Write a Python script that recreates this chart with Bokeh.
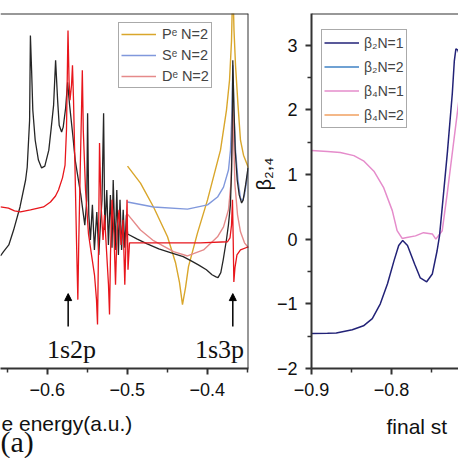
from bokeh.plotting import figure
from bokeh.layouts import row
from bokeh.models import (Range1d, FixedTicker, Span, Label, Legend, LegendItem,
                          Arrow, NormalHead, Title)
from bokeh.embed import file_html
from bokeh.resources import INLINE

NAN = float("nan")

# ---------------- data: panel (a) ----------------
black_curve = [(-0.6584, 3.17), (-0.6546, 3.29), (-0.648, 3.48), (-0.642, 3.90), (-0.634, 4.55),
               (-0.627, 5.31), (-0.625, 5.67),
               (-0.622, 6.99), (-0.621, 9.38), (-0.6195, 8.40), (-0.618, 7.28), (-0.615, 6.43),
               (-0.611, 5.87), (-0.607, 5.65), (-0.603, 5.70), (-0.598, 6.15), (-0.595, 6.77),
               (-0.592, 7.42), (-0.5895, 8.68), (-0.587, 7.56), (-0.585, 6.85), (-0.582, 6.66),
               (-0.580, 6.80), (-0.577, 7.33), (-0.5745, 8.06), (-0.572, 7.42), (-0.568, 6.57),
               (-0.565, 5.87), (-0.558, 4.89), (-0.553, 4.04), (-0.5505, 4.75), (-0.5495, 7.19),
               (-0.548, 4.33), (-0.546, 3.62), (-0.5435, 4.61), (-0.541, 3.34), (-0.538, 4.41),
               (-0.5355, 3.20), (-0.5335, 4.04), (-0.5315, 4.75), (-0.5295, 7.19), (-0.528, 3.90),
               (-0.5255, 5.03), (-0.5235, 3.48), (-0.521, 4.89), (-0.519, 3.40), (-0.5175, 5.31),
               (-0.515, 3.34), (-0.513, 5.03), (-0.511, 3.20), (-0.509, 4.75), (-0.507, 3.34),
               (-0.505, 4.47), (-0.503, 3.40), (-0.501, 4.33), (-0.4995, 3.79), (-0.488, 3.65),
               (-0.475, 3.51), (-0.4605, 3.37), (-0.445, 3.26), (-0.430, 3.15), (-0.420, 3.03),
               (-0.411, 2.92), (-0.401, 2.78), (-0.394, 2.64), (-0.389, 2.58), (-0.3865, 2.56),
               (-0.383, 2.70), (-0.380, 3.06), (-0.376, 3.62), (-0.3735, 4.04), (-0.371, 4.61),
               (-0.3695, 5.59), (-0.3685, 7.28), (-0.368, 8.68), (-0.3665, 7.28), (-0.365, 6.15),
               (-0.3625, 5.31), (-0.360, 4.89), (-0.357, 4.66), (-0.355, 4.75), (-0.352, 5.17),
               (-0.349, 5.65)]

red_curve = [(-0.6584, 4.55), (-0.6484, 4.52), (-0.6409, 4.44), (-0.6334, 4.41), (-0.6209, 4.47),
             (-0.6046, 4.55),
             (-0.5959, 4.69), (-0.5896, 4.86), (-0.5859, 5.03), (-0.5809, 5.37), (-0.5777, 5.73),
             (-0.5759, 6.71), (-0.5746, 8.68), (-0.5740, 9.52), (-0.5727, 8.12), (-0.5715, 7.56),
             (-0.5696, 7.98), (-0.5684, 8.54), (-0.5671, 7.56), (-0.5652, 5.59), (-0.5634, 3.62),
             (-0.5617, 1.94), (-0.5605, 3.62), (-0.5590, 5.31), (-0.5571, 7.28), (-0.5561, 8.40),
             (-0.5549, 6.71), (-0.5521, 5.03), (-0.5484, 3.79), (-0.5446, 3.20), (-0.5409, 2.64),
             (-0.5384, 1.94), (-0.5371, 1.24), (-0.5359, 3.34), (-0.5346, 6.35), (-0.5327, 4.61),
             (-0.5302, 3.62), (-0.5284, 4.33), (-0.5259, 3.34), (-0.5234, 2.36), (-0.5221, 1.52),
             (-0.5209, 3.20), (-0.5190, 4.75), (-0.5165, 3.76), (-0.5146, 2.36), (-0.5127, 3.90),
             (-0.5102, 4.47), (-0.5077, 3.48), (-0.5052, 4.19), (-0.5030, 2.36), (-0.5015, 3.62),
             (-0.5002, 4.75), (-0.4990, 2.78), (-0.4971, 3.54), (-0.4584, 3.54), (-0.4084, 3.54),
             (-0.3746, 3.57), (-0.3715, 3.68), (-0.3696, 4.04), (-0.3684, 4.75), (-0.3675, 3.62),
             (-0.3667, 2.44), (-0.3653, 2.84), (-0.3628, 3.20), (-0.3584, 3.34), (-0.3484, 3.43)]

pe_n2 = [(-0.4996, 5.70), (-0.4834, 5.22), (-0.4671, 4.55), (-0.4496, 3.71), (-0.4396, 2.98),
         (-0.4346, 2.42), (-0.4309, 1.80), (-0.4271, 2.28), (-0.4234, 2.87), (-0.4121, 3.82),
         (-0.3996, 4.75), (-0.3834, 6.15), (-0.3759, 7.28), (-0.3721, 8.12), (-0.3696, 9.24),
         (-0.3680, 10.9), (-0.3665, 9.52), (-0.3646, 8.54), (-0.3615, 7.42), (-0.3584, 6.43),
         (-0.3546, 6.01), (-0.3484, 5.65)]

se_n2 = [(-0.4996, 4.69), (-0.4671, 4.55), (-0.4246, 4.49), (-0.3996, 4.61), (-0.3871, 4.83),
         (-0.3796, 5.11), (-0.3734, 5.59), (-0.3709, 6.15), (-0.3690, 7.28), (-0.3680, 8.54),
         (-0.3667, 7.28), (-0.3646, 6.15), (-0.3615, 5.31), (-0.3584, 4.80), (-0.3559, 4.72),
         (-0.3534, 4.89), (-0.3509, 5.25), (-0.3484, 5.65)]

de_n2 = [(-0.4996, 4.35), (-0.4834, 3.90), (-0.4671, 3.60), (-0.4421, 3.29), (-0.4246, 3.17),
         (-0.4046, 3.34), (-0.3871, 3.71), (-0.3796, 3.99), (-0.3734, 4.47), (-0.3703, 5.22),
         (-0.3688, 6.43), (-0.3679, 7.84), (-0.3669, 6.43), (-0.3653, 5.17), (-0.3621, 4.33),
         (-0.3584, 3.85), (-0.3534, 3.54), (-0.3484, 3.40)]

left_legend_labels = ["P\u1d49 N=2", "S\u1d49 N=2", "D\u1d49 N=2"]
left_xticks = [-0.6, -0.5, -0.4]
left_xminor = [-0.65, -0.55, -0.45, -0.35]
thresholds = [(-0.5738, "1s2p"), (-0.368, "1s3p")]
threshold_label_x = [-0.5696, -0.3846]

# ---------------- data: panel (b) ----------------
beta2_n1 = [(-0.900, -1.46), (-0.880, -1.455), (-0.869, -1.45), (-0.849, -1.40), (-0.835, -1.34),
            (-0.824, -1.23), (-0.814, -1.00), (-0.805, -0.69), (-0.797, -0.34), (-0.791, -0.10),
            (-0.786, -0.02), (-0.780, -0.10), (-0.771, -0.39), (-0.764, -0.60), (-0.756, -0.66),
            (-0.749, -0.54), (-0.743, -0.18), (-0.740, 0.05), (-0.735, 0.70), (-0.730, 1.36),
            (-0.724, 2.25), (-0.7215, 2.75), (-0.7195, 2.94), (-0.717, 2.92), (-0.714, 2.80),
            (-0.709, 2.30), (-0.705, 1.87), (-0.699, 1.16)]
beta2_n2 = [(NAN, NAN)]
beta4_n1 = [(-0.900, 1.37), (-0.880, 1.355), (-0.864, 1.34), (-0.847, 1.29), (-0.835, 1.21),
            (-0.822, 1.05), (-0.810, 0.80), (-0.799, 0.44), (-0.793, 0.13), (-0.7867, 0.01),
            (-0.7825, 0.02), (-0.770, 0.05), (-0.760, 0.10), (-0.749, 0.08), (-0.7446, 0.0),
            (-0.7366, 0.13), (-0.7304, 0.70), (-0.7221, 1.52), (-0.7158, 2.14), (-0.7096, 2.47),
            (-0.7013, 2.55)]
beta4_n2 = [(NAN, NAN)]
right_legend_labels = ["\u03b2\u2082N=1", "\u03b2\u2082N=2", "\u03b2\u2084N=1", "\u03b2\u2084N=2"]
right_xticks = [-0.9, -0.8, -0.7]
right_xminor = [-0.85, -0.75]
right_yticks = [-2, -1, 0, 1, 2, 3]
right_yminor = [-1.5, -0.5, 0.5, 1.5, 2.5]

AX = "#333333"
TXT = "#111111"
SANS = "Liberation Sans"
SERIF = "Liberation Serif"


def xs(c):
    return [p[0] for p in c]


def ys(c):
    return [p[1] for p in c]


def style_axis(ax):
    ax.axis_line_width = 2
    ax.axis_line_color = AX
    ax.major_tick_line_width = 2
    ax.major_tick_line_color = AX
    ax.minor_tick_line_width = 1.5
    ax.minor_tick_line_color = AX
    ax.major_tick_in = 0
    ax.major_tick_out = 6
    ax.minor_tick_in = 0
    ax.minor_tick_out = 4
    ax.major_label_text_font = SANS
    ax.major_label_text_font_size = "18px"
    ax.major_label_text_color = TXT
    ax.major_label_standoff = 8


def title(text, font, size, align, offset, standoff, valign="bottom"):
    return Title(text=text, align=align, offset=offset, standoff=standoff,
                 vertical_align=valign,
                 text_font=font, text_font_size=size, text_font_style="normal",
                 text_color=TXT)


# ---------------- left panel ----------------
p1 = figure(width=249, height=458, x_range=Range1d(-0.65838, -0.34838), y_range=Range1d(0, 10),
            output_backend="svg", toolbar_location=None, y_axis_location=None,
            min_border_left=0, min_border_right=1, min_border_top=13, min_border_bottom=89)
p1.xgrid.visible = False
p1.ygrid.visible = False
p1.outline_line_color = None
p1.background_fill_color = "white"
p1.border_fill_color = "white"
p1.xaxis.ticker = FixedTicker(ticks=left_xticks, minor_ticks=left_xminor)
style_axis(p1.xaxis[0])

r_pe = p1.line(xs(pe_n2), ys(pe_n2), line_color="#d9a62b", line_width=1.4)
r_se = p1.line(xs(se_n2), ys(se_n2), line_color="#8098dc", line_width=1.4)
r_de = p1.line(xs(de_n2), ys(de_n2), line_color="#e58a8a", line_width=1.4)
p1.line(xs(black_curve), ys(black_curve), line_color="#262626", line_width=1.3)
p1.line(xs(red_curve), ys(red_curve), line_color="#e8161c", line_width=1.3)

p1.add_layout(Span(location=10, dimension="width", line_color=AX, line_width=2))
p1.add_layout(Span(location=-0.34838, dimension="height", line_color=AX, line_width=2))

leg1 = Legend(items=[LegendItem(label=left_legend_labels[0], renderers=[r_pe]),
                     LegendItem(label=left_legend_labels[1], renderers=[r_se]),
                     LegendItem(label=left_legend_labels[2], renderers=[r_de])],
              location=(118, 280), margin=0, padding=2, spacing=3,
              glyph_width=35, glyph_height=18, label_height=18, label_standoff=6,
              label_text_font=SANS, label_text_font_size="14.5px",
              border_line_color="#555555", border_line_width=1, background_fill_color="white")
p1.add_layout(leg1)

for (xa, name), xl in zip(thresholds, threshold_label_x):
    p1.add_layout(Arrow(end=NormalHead(size=7, fill_color="black", line_color="black"),
                        x_start=xa, y_start=1.18, x_end=xa, y_end=2.11,
                        line_color="black", line_width=1.5))
    p1.add_layout(Label(x=xl, y=0.53, text=name, text_align="center", text_baseline="alphabetic",
                        text_font=SERIF, text_font_size="26px", text_color=TXT))

p1.add_layout(title("e energy(a.u.)", SANS, "21px", "left", 1, 22), "below")
p1.add_layout(title("(a)", SERIF, "30px", "left", 0, -42, "top"), "below")

# ---------------- right panel ----------------
p2 = figure(width=209, height=458, x_range=Range1d(-0.9, -0.71625), y_range=Range1d(-2, 3.487),
            output_backend="svg", toolbar_location=None,
            min_border_left=62, min_border_right=0, min_border_top=13, min_border_bottom=90)
p2.xgrid.visible = False
p2.ygrid.visible = False
p2.outline_line_color = None
p2.background_fill_color = "white"
p2.border_fill_color = "white"
p2.xaxis.ticker = FixedTicker(ticks=right_xticks, minor_ticks=right_xminor)
p2.yaxis.ticker = FixedTicker(ticks=right_yticks, minor_ticks=right_yminor)
style_axis(p2.xaxis[0])
style_axis(p2.yaxis[0])
p2.yaxis[0].major_label_standoff = 8

r_b2n2 = p2.line(xs(beta2_n2), ys(beta2_n2), line_color="#3f82c4", line_width=1.5)
r_b4n2 = p2.line(xs(beta4_n2), ys(beta4_n2), line_color="#f0a060", line_width=1.5)
r_b4n1 = p2.line(xs(beta4_n1), ys(beta4_n1), line_color="#e58ccb", line_width=1.5)
r_b2n1 = p2.line(xs(beta2_n1), ys(beta2_n1), line_color="#222277", line_width=1.5)

p2.add_layout(Span(location=3.487, dimension="width", line_color=AX, line_width=2))

leg2 = Legend(items=[LegendItem(label=right_legend_labels[0], renderers=[r_b2n1]),
                     LegendItem(label=right_legend_labels[1], renderers=[r_b2n2]),
                     LegendItem(label=right_legend_labels[2], renderers=[r_b4n1]),
                     LegendItem(label=right_legend_labels[3], renderers=[r_b4n2])],
              location=(10, 240), margin=0, padding=2, spacing=3,
              glyph_width=35, glyph_height=21, label_height=21, label_standoff=5,
              label_text_font=SANS, label_text_font_size="14px",
              border_line_color="#555555", border_line_width=1, background_fill_color="white")
p2.add_layout(leg2)

p2.add_layout(title("\u03b2\u2082,\u2084", SANS, "20px", "left", 178, -2), "left")
p2.add_layout(title("final st", SANS, "21px", "left", 75, 28), "below")

layout = row(p1, p2)
open("out.html", "w").write(file_html(layout, INLINE))
